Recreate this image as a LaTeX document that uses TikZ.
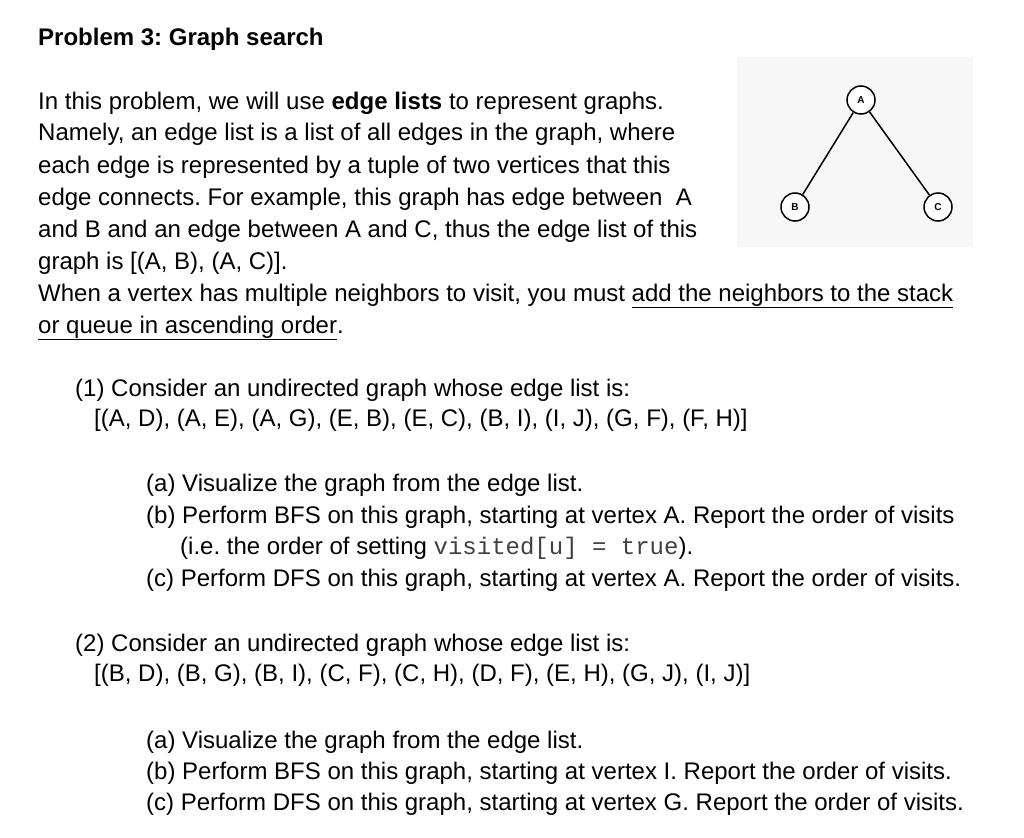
\documentclass[tikz,border=0pt]{standalone}
\usepackage{fontspec}
\setmainfont{Liberation Sans}
\setmonofont{Liberation Mono}
\frenchspacing
\begin{document}
\begin{tikzpicture}[x=1pt,y=-1pt,
  txt/.style={anchor=base west,inner sep=0pt,font=\fontsize{24}{28}\selectfont},
  vtx/.style={circle,draw,line width=1.5pt,fill=white,minimum size=28pt,inner sep=0pt,font=\fontsize{10}{11}\selectfont\bfseries}]
\useasboundingbox (0,0) rectangle (1024,837);
\fill[white] (0,0) rectangle (1024,837);
\fill[black!3] (737,57) rectangle (973,247);
\node[vtx] (A) at (861,100) {A};
\node[vtx] (B) at (795,207) {B};
\node[vtx] (C) at (938,207) {C};
\draw[line width=1.5pt] (A) -- (B);
\draw[line width=1.5pt] (A) -- (C);
\node[txt] (t0) at (38,46) {\bfseries Problem 3: Graph search};
\node[txt] (t1) at (38,110) {In this problem, we will use \textbf{edge lists} to represent graphs.};
\node[txt] (t2) at (38,141) {Namely, an edge list is a list of all edges in the graph, where};
\node[txt] (t3) at (38,173) {each edge is represented by a tuple of two vertices that this};
\node[txt] (t4) at (38,205) {edge connects. For example, this graph has edge between\ \ A};
\node[txt] (t5) at (38,237) {and B and an edge between A and C, thus the edge list of this};
\node[txt] (t6) at (38,269) {graph is [(A, B), (A, C)].};
\node[txt] (t7) at (38,301) {When a vertex has multiple neighbors to visit, you must \underline{add the neighbors to the stack}};
\node[txt] (t8) at (38,333) {\underline{or queue in ascending order}.};
\node[txt] (p1) at (75,396) {(1) Consider an undirected graph whose edge list is:};
\node[txt] (p1l) at (94,426) {[(A, D), (A, E), (A, G), (E, B), (E, C), (B, I), (I, J), (G, F), (F, H)]};
\node[txt] (p1a) at (146,491) {(a) Visualize the graph from the edge list.};
\node[txt] (p1b) at (146,523) {(b) Perform BFS on this graph, starting at vertex A. Report the order of visits};
\node[txt] (p1b2) at (180,554) {(i.e. the order of setting {\color{black!75}\ttfamily visited[u] = true}).};
\node[txt] (p1c) at (146,586) {(c) Perform DFS on this graph, starting at vertex A. Report the order of visits.};
\node[txt] (p2) at (75,651) {(2) Consider an undirected graph whose edge list is:};
\node[txt] (p2l) at (94,681) {[(B, D), (B, G), (B, I), (C, F), (C, H), (D, F), (E, H), (G, J), (I, J)]};
\node[txt] (p2a) at (146,748) {(a) Visualize the graph from the edge list.};
\node[txt] (p2b) at (146,779) {(b) Perform BFS on this graph, starting at vertex I. Report the order of visits.};
\node[txt] (p2c) at (146,810) {(c) Perform DFS on this graph, starting at vertex G. Report the order of visits.};
\end{tikzpicture}
\end{document}
